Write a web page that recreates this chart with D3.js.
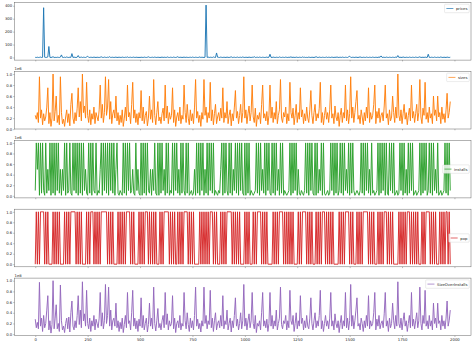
<!DOCTYPE html>
<html>
<head>
<meta charset="utf-8">
<script src="https://cdn.jsdelivr.net/npm/d3@7"></script>
<style>
  body { margin: 0; background: #fff; }
  svg text { font-family: "DejaVu Sans", sans-serif; }
</style>
</head>
<body>
<div id="chart"></div>
<script>
let width = 474;
let height = 345;
let plotLeft = 14.5, plotRight = 471;
let panelTop = 2.5, panelStep = 68.9, panelHeight = 57.6;
let fontSize = 3.8;

// one value kept every 5 rows of the frame
let rowStep = 5;

////////////////////////////////
//   Data
////////////////////////////////
let prices = [
  1,0,2,0,1,3,0,1,385,2,0,1,4,85,1,0,2,6,0,1,
  0,2,1,0,3,20,1,0,2,0,4,1,0,2,1,30,0,3,1,0,
  2,15,0,1,3,0,2,1,0,4,10,1,0,2,1,0,3,1,0,2,
  1,0,2,5,1,0,3,1,0,2,1,6,0,1,2,0,1,3,0,1,
  2,1,0,3,1,0,2,1,4,0,1,2,0,1,3,0,1,2,0,1,
  0,2,1,0,3,1,0,2,5,1,0,1,2,0,3,1,0,2,1,0,
  1,3,0,2,1,0,4,1,0,2,1,0,3,1,0,2,6,0,1,2,
  0,1,3,0,2,1,0,1,2,0,3,1,0,2,1,0,1,4,0,2,
  1,0,2,405,1,3,0,2,1,0,4,1,0,35,2,1,0,3,1,0,
  2,1,0,3,1,0,2,5,0,1,2,0,1,3,0,1,2,0,4,1,
  0,2,1,0,3,1,0,2,1,6,0,1,2,0,3,1,0,2,1,0,
  1,3,0,2,25,1,0,3,1,0,2,1,0,4,1,0,2,1,0,3,
  1,0,2,1,5,0,2,1,0,3,1,0,2,1,0,4,1,2,0,1,
  0,3,1,0,2,1,0,2,6,1,0,3,1,0,2,1,0,1,3,0,
  2,1,0,3,1,0,2,1,4,0,1,2,0,3,1,0,2,1,0,5,
  10,1,0,2,1,0,3,1,0,2,4,1,0,2,1,0,3,1,0,2,
  1,0,3,1,0,2,1,0,4,1,12,0,2,1,0,3,1,0,2,1,
  0,2,1,0,3,1,15,0,2,1,0,4,1,0,2,1,0,3,1,0,
  2,1,0,3,1,0,2,5,0,1,2,0,3,1,0,25,1,0,2,1,
  0,3,1,0,2,1,0,4,1,0,2,1,0,3,1,0,2
];

// sizes, in units of 1e6
let sizes = [
  0.25,0.18,0.3,0.12,0.95,0.2,0.35,0.08,0.28,0.15,0.22,0.4,0.75,0.1,0.3,0.05,0.2,1.0,0.15,0.32,
  0.6,0.12,0.25,0.08,0.95,0.3,0.1,0.18,0.05,0.22,0.35,0.12,0.28,0.06,0.45,0.65,0.2,0.1,0.3,0.15,
  0.38,0.75,0.22,0.5,0.15,1.0,0.3,0.42,0.2,0.85,0.25,0.12,0.35,0.08,0.28,0.18,0.4,0.1,0.3,0.22,
  0.15,0.35,0.8,0.2,0.45,0.12,0.3,0.95,0.25,0.4,0.9,0.18,0.5,0.1,0.28,0.35,0.2,0.6,0.15,0.3,
  0.08,0.25,0.12,0.35,0.05,0.2,0.4,0.15,0.8,0.22,0.3,0.1,0.45,0.85,0.2,0.35,0.12,0.28,0.08,0.3,
  0.2,0.7,0.15,0.4,0.1,0.25,0.32,0.06,0.2,0.6,0.18,0.35,0.12,0.9,0.25,0.08,0.3,0.5,0.15,0.22,
  0.1,0.28,0.38,0.15,0.8,0.2,0.42,0.1,0.3,0.18,0.25,0.75,0.12,0.35,0.05,0.22,0.3,0.15,0.4,0.1,
  0.25,0.18,0.8,0.3,0.12,0.45,0.2,0.08,0.35,0.15,0.28,0.1,0.4,0.9,0.2,0.32,0.12,0.25,0.05,0.3,
  0.18,0.9,0.25,0.4,0.12,0.3,0.2,0.85,0.15,0.35,0.08,0.28,0.45,0.1,0.22,0.3,0.15,0.38,0.2,0.75,
  0.12,0.3,0.2,0.5,0.1,0.25,0.35,0.06,0.28,0.15,0.4,0.7,0.2,0.32,0.1,0.25,0.45,0.12,0.3,0.95,
  0.2,0.35,0.1,0.28,0.42,0.15,0.3,0.8,0.22,0.12,0.38,0.05,0.25,0.18,0.3,0.1,0.45,0.8,0.2,0.28,
  0.15,0.32,0.08,0.25,0.8,0.2,0.4,0.12,0.3,0.18,0.5,0.1,0.25,0.35,0.9,0.2,0.12,0.3,0.22,0.4,
  0.1,0.28,0.15,0.85,0.3,0.2,0.38,0.08,0.25,0.45,0.12,0.3,0.18,0.75,0.22,0.35,0.1,0.28,0.15,0.4,
  0.2,0.12,0.35,0.7,0.25,0.1,0.3,0.45,0.15,0.28,0.2,0.38,0.85,0.12,0.3,0.08,0.25,0.4,0.18,0.3,
  0.12,0.35,0.8,0.2,0.28,0.1,0.42,0.22,0.15,0.3,0.05,0.25,0.38,0.12,0.3,0.2,0.8,0.15,0.35,0.1,
  0.28,0.95,0.2,0.4,0.12,0.3,0.5,0.7,0.18,0.25,0.1,0.35,0.22,0.08,0.3,0.15,0.4,0.2,0.75,0.12,
  0.3,0.18,0.25,0.45,0.8,0.1,0.32,0.2,0.38,0.12,0.25,0.3,0.15,0.42,0.8,0.2,0.28,0.08,0.35,0.15,
  0.22,0.6,0.3,0.12,0.4,0.2,1.0,0.25,0.15,0.35,0.1,0.28,0.45,0.18,0.3,0.08,0.25,0.38,0.15,0.8,
  0.2,0.32,0.12,0.28,0.45,0.15,0.3,0.9,0.22,0.1,0.38,0.25,0.85,0.18,0.3,0.12,0.4,0.2,0.28,0.1,
  0.6,0.25,0.35,0.15,0.6,0.22,0.3,0.1,0.4,0.18,0.28,0.12,0.35,0.65,0.2,0.3,0.5
];

// installs, in units of 1e6
let installs = [
  0.1,1,0.5,1, 0.01,1,0.05,1, 0.1,0.01,1,0.05,0.5,0.1,
  1,0.01,1,0.05,1,0.01,1,0.1,1, 0.05,0.5,0.01,0.5,0.1, 1,0.01,1,0.05,
  0.1,1,0.05,0.01,1,0.1,1,0.05, 1,0.01,1,0.05,1,0.01,1, 0.1,0.5,0.05,0.01,
  1,0.05,1,0.01,1, 0.1,0.05,1,0.01,0.1,0.05,0.5,
  1,0.01,1,0.1,1,0.05,1,0.01,1,0.1, 1,0.05,1,0.01,0.5,1, 0.05,0.01,0.1,0.05,0.01,
  1,0.05,1,0.01,1,0.1,1,0.05, 0.1,0.5,0.05,0.01,1,0.1,0.5,0.05,0.01,
  1,0.01,1,0.05,1,0.01,1,0.1, 0.05,0.5,0.01,0.5,0.1,1,0.05,0.01,
  1,0.01,1,0.05,1,0.1,0.5,0.01,1,0.05,1,0.01,0.1,0.05,1,0.01,1,0.1,1,0.05,0.5,0.01,1,0.05,1,0.1,0.01,1,0.05,1,0.01,
  0.05,0.1,0.01,0.05,0.5,0.01,
  1,0.05,1,0.01,1,0.1,1,0.01,0.5,0.05,1,0.01,1,0.1,1,0.05,1,0.01,
  0.1,0.05,0.01,0.1,0.05,0.5,
  1,0.01,1,0.05,1,0.1,0.01,1,0.05,1,0.01,0.5,0.1,1,0.05,1,0.01,1,0.1,1,0.05,0.01,1,0.01,1,0.05,1,
  0.01,0.1,0.05,0.01,0.05,0.1,
  1,0.05,1,0.01,1,0.1,0.5,0.05,1,0.01,1,0.1,1,0.05,0.01,1,0.05,1,0.01,1,0.1,0.5,0.01,1,0.05,1,0.01,
  0.1,0.05,0.01,0.05,0.1,
  1,0.01,1,0.05,1,0.1,1,0.01,0.5,0.05,
  0.01,0.1,0.05,0.01,0.1,
  1,0.05,1,0.01,1,0.1,1,0.05,0.01,1,0.01,1,0.05,0.5,0.1,1,0.01,1,0.05,
  0.01,0.05,0.1,0.01,0.05,
  1,0.1,1,0.01,1,0.05,1,0.01,0.1,1,0.05,1,0.01,1,0.1,0.5,0.05,1,0.01,1,0.05,1,0.1,
  0.01,0.05,0.1,0.05,0.01,0.1,
  1,0.05,1,0.01,1,0.1,1,0.05,0.5,0.01,1,
  0.05,0.1,0.01,0.05,0.1,
  1,0.01,1,0.05,1,0.1,1,0.01,1,0.05,0.01,1,0.1,1,0.05,1,
  0.01,0.05,0.1,0.01,0.05,
  1,0.1,1,0.01,1,0.05,0.5,0.01,1,0.05,1,0.1,1,0.01,
  0.05,0.1,0.01,0.05,0.1,
  1,0.01,1,0.05,1,0.1,1,0.01,0.1,1,0.05,1,0.01,1,0.1,0.5,0.05,1,0.01,
  0.05,0.1,0.01,0.05,0.1,
  1,0.05,1,0.01,1,0.1
];

let pop = [
  0,1,0,1,0,1, 1,1,1, 0,1,0,1, 0,0,0,0, 1,0,1,
  0,1,0,1,0, 0,0,0, 1,0,1,0,1,0,1, 1,1,1,1, 0,
  1,0,1,0,1,0, 0,0,0, 1,0,1,0, 1,1,1, 0,1,0,1,
  0,1,0,1, 1,1,1,1,1, 0,1,0,1,0,1,0, 0,0,0, 1,
  0,1,0,1,0,1,0,1, 1,1,1, 0,1,0,1, 0,0,0,0, 1,
  0,1,0,1,0,1, 1,1, 0,1,0,1,0,1,0,1, 0,0,0, 1,
  0,1,0,1, 1,1,1,1, 0,1,0,1,0,1, 0,0, 1,0,1,0,
  1,0,1, 1,1,1, 0,1,0,1,0,1,0, 0,0,0,0, 1,0,1,
  0,1,0,1,0,1,0, 1,1,1, 0,1,0,1, 0,0,0, 1,0,1,
  0,1,0,1, 1,1,1,1, 0,1,0,1,0,1,0,1, 0,0,0,0,
  1,0,1,0,1,0, 0,0, 1,0,1,0,1, 1,1,1, 0,1,0,1,
  0,1,0, 0,0,0,0, 1,0,1,0,1,0,1, 1,1,1, 0,1,0,
  1,0,1,0,1,0,1,0, 0,0,0, 1,0,1,0, 1,1,1,1, 0,
  1,0,1,0,1, 0,0,0, 1,0,1,0,1,0, 1,1,1, 0,1,0,
  1,0,1,0,1,0, 0,0,0,0, 1,0,1,0,1,0,1, 1,1,1,
  0,1,0,1,0, 0,0, 1,0,1,0,1,0,1, 1,1,1,1, 0,1,
  0,1,0,1, 0,0,0, 1,0,1,0,1,0, 1,1,1, 0,1,0,1,
  0,1,0, 0,0,0,0, 1,0,1,0,1,0,1,0, 1,1,1, 0,1,
  0,1,0,1,0,1, 0,0,0, 1,0,1,0,1, 1,1,1, 0,1,0,
  1,0,1, 0,0,0, 1,0,1,0,1,0, 1,1, 0,1,0
];

// SizeOverInstalls, in units of 1e8
let sizeOverInstalls = [
  0.28,0.12,0.22,0.1,0.97,0.15,0.3,0.05,0.35,0.12,0.2,0.45,0.72,0.08,0.25,0.02,0.18,1.0,0.1,0.3,
  0.55,0.1,0.2,0.05,0.92,0.25,0.08,0.15,0.03,0.2,0.3,0.1,0.32,0.04,0.4,0.62,0.15,0.08,0.25,0.12,
  0.35,0.72,0.18,0.45,0.12,0.98,0.25,0.38,0.15,0.82,0.2,0.1,0.3,0.05,0.25,0.15,0.35,0.08,0.28,0.2,
  0.12,0.3,0.78,0.15,0.4,0.1,0.25,0.93,0.2,0.35,0.88,0.15,0.45,0.08,0.25,0.3,0.15,0.58,0.12,0.25,
  0.05,0.22,0.1,0.3,0.03,0.18,0.35,0.12,0.78,0.2,0.25,0.08,0.4,0.82,0.15,0.3,0.1,0.25,0.05,0.28,
  0.15,0.68,0.12,0.35,0.08,0.2,0.3,0.04,0.18,0.58,0.15,0.3,0.1,0.88,0.2,0.06,0.25,0.48,0.12,0.2,
  0.08,0.25,0.35,0.12,0.78,0.18,0.38,0.08,0.25,0.15,0.2,0.72,0.1,0.3,0.03,0.2,0.25,0.12,0.35,0.08,
  0.2,0.15,0.78,0.25,0.1,0.4,0.18,0.05,0.3,0.12,0.25,0.08,0.35,0.88,0.15,0.28,0.1,0.2,0.04,0.25,
  0.15,0.88,0.2,0.35,0.1,0.25,0.18,0.82,0.12,0.3,0.05,0.25,0.4,0.08,0.2,0.25,0.12,0.35,0.15,0.72,
  0.1,0.25,0.18,0.45,0.08,0.2,0.3,0.04,0.25,0.12,0.35,0.68,0.15,0.28,0.08,0.2,0.4,0.1,0.25,0.93,
  0.15,0.3,0.08,0.25,0.38,0.12,0.25,0.78,0.2,0.1,0.35,0.03,0.2,0.15,0.25,0.08,0.4,0.78,0.15,0.25,
  0.12,0.28,0.05,0.2,0.78,0.15,0.35,0.1,0.25,0.15,0.45,0.08,0.2,0.3,0.88,0.18,0.1,0.25,0.2,0.35,
  0.08,0.25,0.12,0.82,0.25,0.18,0.35,0.05,0.2,0.4,0.1,0.25,0.15,0.72,0.2,0.3,0.08,0.25,0.12,0.35,
  0.15,0.1,0.3,0.68,0.2,0.08,0.25,0.4,0.12,0.25,0.15,0.35,0.82,0.1,0.25,0.05,0.2,0.35,0.15,0.25,
  0.1,0.3,0.78,0.15,0.25,0.08,0.38,0.2,0.12,0.25,0.03,0.2,0.35,0.1,0.25,0.15,0.78,0.12,0.3,0.08,
  0.25,0.93,0.15,0.35,0.1,0.25,0.45,0.68,0.15,0.2,0.08,0.3,0.2,0.05,0.25,0.12,0.35,0.15,0.72,0.1,
  0.25,0.15,0.2,0.4,0.78,0.08,0.28,0.15,0.35,0.1,0.2,0.25,0.12,0.38,0.78,0.15,0.25,0.05,0.3,0.12,
  0.2,0.58,0.25,0.1,0.35,0.15,0.98,0.2,0.12,0.3,0.08,0.25,0.4,0.15,0.25,0.05,0.2,0.35,0.12,0.78,
  0.15,0.28,0.1,0.25,0.4,0.12,0.25,0.88,0.2,0.08,0.35,0.2,0.82,0.15,0.25,0.1,0.35,0.15,0.25,0.08,
  0.58,0.2,0.3,0.12,0.58,0.2,0.25,0.08,0.35,0.15,0.25,0.1,0.3,0.62,0.15,0.25,0.45
];

let seriesNames = ["prices", "sizes", "installs", "pop", "SizeOverInstalls"];
let seriesData = [prices, sizes, installs, pop, sizeOverInstalls];
let seriesColors = ["#1f77b4", "#ff7f0e", "#2ca02c", "#d62728", "#9467bd"];
let offsetLabels = ["", "1e6", "1e6", "", "1e8"];
let legendLocs = ["upper right", "upper right", "center right", "center right", "upper right"];
let priceTicks = [0, 100, 200, 300, 400];
let unitTicks = [0, 0.2, 0.4, 0.6, 0.8, 1.0];
let xTicks = [0, 250, 500, 750, 1000, 1250, 1500, 1750, 2000];

/////////////////////////////
//   Setup Chart Elements
/////////////////////////////
let svg = d3.select("#chart")
  .append("svg")
  .attr("width", width)
  .attr("height", height);

let lastRow = (prices.length - 1) * rowStep;
let xPad = lastRow * 0.05;
let x = d3.scaleLinear().domain([-xPad, lastRow + xPad]).range([plotLeft, plotRight]);

seriesData.forEach(function(values, p) {
  let top = panelTop + p * panelStep;
  let bottom = top + panelHeight;
  let lo = d3.min(values), hi = d3.max(values);
  let yPad = (hi - lo) * 0.05;
  let y = d3.scaleLinear().domain([lo - yPad, hi + yPad]).range([bottom, top]);

  let g = svg.append("g");

  // line
  let line = d3.line()
    .x(function(d, i) { return x(i * rowStep); })
    .y(function(d) { return y(d); });

  g.append("path")
    .datum(values)
    .attr("d", line)
    .attr("fill", "none")
    .attr("stroke", seriesColors[p])
    .attr("stroke-width", 0.95)
    .attr("stroke-linejoin", "round");

  // axes
  let yAxis = d3.axisLeft(y)
    .tickValues(p == 0 ? priceTicks : unitTicks)
    .tickFormat(p == 0 ? d3.format("d") : d3.format(".1f"))
    .tickSize(1.3)
    .tickPadding(1);
  let ya = g.append("g").attr("transform", "translate(" + plotLeft + ",0)").call(yAxis);

  let xAxis = d3.axisBottom(x)
    .tickValues(xTicks)
    .tickSize(1.3)
    .tickPadding(1)
    .tickFormat(p == seriesData.length - 1 ? d3.format("d") : "");
  let xa = g.append("g").attr("transform", "translate(0," + bottom + ")").call(xAxis);

  [ya, xa].forEach(function(a) {
    a.select(".domain").remove();
    a.attr("font-size", fontSize).attr("font-family", "DejaVu Sans, sans-serif");
    a.selectAll("line").attr("stroke", "#555").attr("stroke-width", 0.4);
    a.selectAll("text").attr("fill", "#222");
  });

  // frame
  g.append("rect")
    .attr("x", plotLeft)
    .attr("y", top)
    .attr("width", plotRight - plotLeft)
    .attr("height", panelHeight)
    .attr("fill", "none")
    .attr("stroke", "#666")
    .attr("stroke-width", 0.5);

  // offset label like "1e6"
  if (offsetLabels[p] != "") {
    g.append("text")
      .attr("x", plotLeft)
      .attr("y", top - 1.2)
      .attr("font-size", fontSize)
      .attr("fill", "#222")
      .text(offsetLabels[p]);
  }

  ///////////////
  //   Legend
  ///////////////
  let leg = g.append("g");
  let box = leg.append("rect")
    .attr("fill", "#fff")
    .attr("fill-opacity", 0.8)
    .attr("stroke", "#d0d0d0")
    .attr("stroke-width", 0.4)
    .attr("rx", 0.8);
  let handle = leg.append("line")
    .attr("stroke", seriesColors[p])
    .attr("stroke-width", 0.7);
  let label = leg.append("text")
    .attr("font-size", fontSize)
    .attr("fill", "#222")
    .attr("dominant-baseline", "central")
    .text(seriesNames[p]);

  let textW = label.node().getComputedTextLength();
  let boxH = 8.4;
  let boxW = 1.8 + 7 + 2.6 + textW + 1.8;
  let bx = plotRight - 1.8 - boxW;
  let by = legendLocs[p] == "upper right" ? top + 1.8 : top + panelHeight / 2 - boxH / 2;
  box.attr("x", bx).attr("y", by).attr("width", boxW).attr("height", boxH);
  handle.attr("x1", bx + 1.8).attr("x2", bx + 8.8).attr("y1", by + boxH / 2).attr("y2", by + boxH / 2);
  label.attr("x", bx + 11.4).attr("y", by + boxH / 2);
});
</script>
</body>
</html>
